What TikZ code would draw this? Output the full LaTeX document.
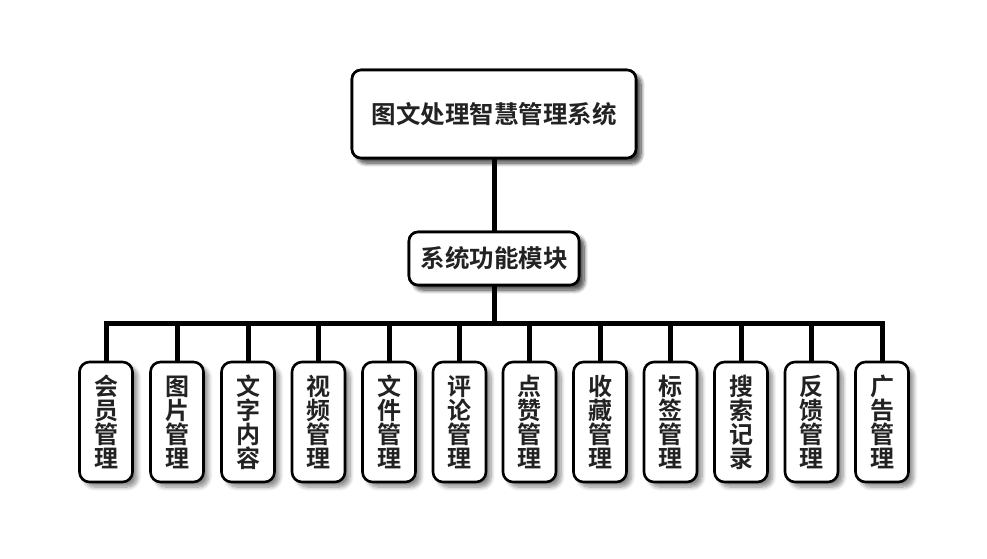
\documentclass[tikz,border=0pt]{standalone}
\usepackage{fontspec}
\newfontfamily\cjk{Noto Sans CJK SC}[BoldFont={Noto Sans CJK SC Bold}]
\usetikzlibrary{shadows.blur}
\definecolor{txt}{HTML}{222222}
\tikzset{
  box/.style={draw=black, line width=2.6pt, rounded corners=9pt, fill=white,
    blur shadow={shadow xshift=5pt, shadow yshift=-5pt, shadow blur steps=8, shadow blur radius=4pt, shadow opacity=45},
    font=\cjk\bfseries\fontsize{24.5}{25}\selectfont, text=txt, inner sep=0pt, align=center},
  topbox/.style={box, minimum width=284pt, minimum height=88pt},
  midbox/.style={box, minimum width=170pt, minimum height=53pt},
  leaf/.style={box, minimum width=53pt, minimum height=120pt, rounded corners=10pt,
    font=\cjk\bfseries\fontsize{24}{24}\selectfont},
  conn/.style={draw=black, line width=5pt}
}
\begin{document}
\begin{tikzpicture}[x=1pt,y=-1pt]
\useasboundingbox (0,0) rectangle (987,558);
\node[topbox] (top) at (494,114) {图文处理智慧管理系统};
\node[midbox] (mid) at (494,258.5) {系统功能模块};
\coordinate (bus) at (494,323);
\foreach \i/\x in {1/106,2/177,3/248,4/318.5,5/389,6/459.5,7/529.5,8/600,9/670.5,10/741,11/811.5,12/882}{
  \coordinate (b\i) at (\x,323);
}
\draw[conn] (top.south) -- (mid.north);
\draw[conn] (mid.south) -- (bus);
\draw[conn, line cap=rect] (b1) -- (b12);
\foreach \i/\x/\t in {1/106/{会\\员\\管\\理},2/177/{图\\片\\管\\理},3/248/{文\\字\\内\\容},4/318.5/{视\\频\\管\\理},5/389/{文\\件\\管\\理},6/459.5/{评\\论\\管\\理},7/529.5/{点\\赞\\管\\理},8/600/{收\\藏\\管\\理},9/670.5/{标\\签\\管\\理},10/741/{搜\\索\\记\\录},11/811.5/{反\\馈\\管\\理},12/882/{广\\告\\管\\理}}{
  \node[leaf] (l\i) at (\x,422) {\t};
  \draw[conn] (b\i) -- (l\i.north);
}
\node[topbox] at (top) {图文处理智慧管理系统};
\node[midbox] at (mid) {系统功能模块};
\end{tikzpicture}
\end{document}
